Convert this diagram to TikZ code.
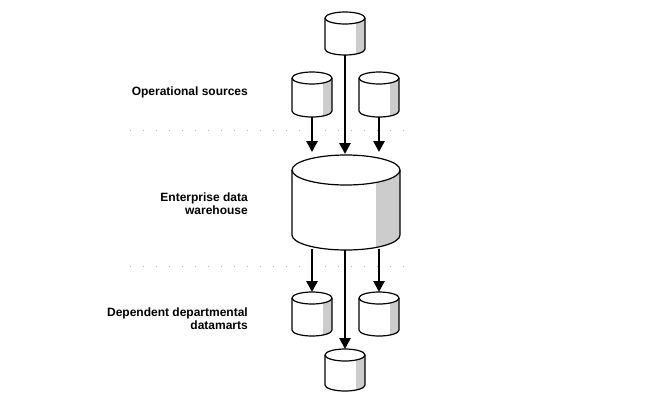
\documentclass[tikz,border=0pt]{standalone}
\usepackage{fontspec}
\setmainfont{Liberation Sans}
\usetikzlibrary{arrows.meta}
\begin{document}
\begin{tikzpicture}[x=1pt,y=-1pt,
  arr/.style={line width=2.6pt,-{Triangle[length=11pt,width=11pt]}},
  dots/.style={gray!60,line width=0.8pt,dash pattern=on 1pt off 12pt},
  lbl/.style={font=\bfseries\fontsize{12}{13}\selectfont,align=right,anchor=east,inner sep=0pt}]
\useasboundingbox (0,0) rectangle (650,400);
\newcommand\mycyl[6]{% name, cx, topy, boty, rx, ry
  \begin{scope}
  \clip (#2-#5,#3) -- (#2-#5,#4) arc[start angle=180,end angle=0,x radius=#5,y radius=#6] -- (#2+#5,#3) -- cycle;
  \fill[white] (#2-#5,#3) rectangle (#2+#5,#4+#6);
  \fill[gray!40] (#2+0.55*#5,#3) rectangle (#2+#5,#4+#6);
  \end{scope}
  \draw[line width=1.2pt,fill=white] (#2,#3) ellipse[x radius=#5,y radius=#6];
  \draw[line width=1.2pt] (#2-#5,#3) -- (#2-#5,#4) arc[start angle=180,end angle=0,x radius=#5,y radius=#6] -- (#2+#5,#3);
  \coordinate (#1t) at (#2,#3-#6);
  \coordinate (#1b) at (#2,#4+#6);
}
\draw[dots] (130,130) -- (415,130);
\draw[dots] (130,266) -- (415,266);
\mycyl{top}{345}{18}{49}{20}{6}
\mycyl{sl}{312}{78}{111}{20}{6}
\mycyl{sr}{379}{78}{111}{20}{6}
\mycyl{dw}{346}{170}{235}{54}{15}
\mycyl{dl}{312}{298}{330}{20}{6}
\mycyl{dr}{379}{298}{330}{20}{6}
\mycyl{bot}{345}{355}{385}{20}{6}
\draw[arr] (slb) -- (312,152);
\draw[arr] (topb) -- (345,154);
\draw[arr] (srb) -- (379,152);
\draw[arr] (312,249) -- (dlt);
\draw[arr] (345,250) -- (bott);
\draw[arr] (379,249) -- (drt);
\node[lbl] (op) at (248,92) {Operational sources};
\node[lbl] (ew) at (248,204) {Enterprise data\\warehouse};
\node[lbl] (dd) at (248,319) {Dependent departmental\\datamarts};
\end{tikzpicture}
\end{document}
